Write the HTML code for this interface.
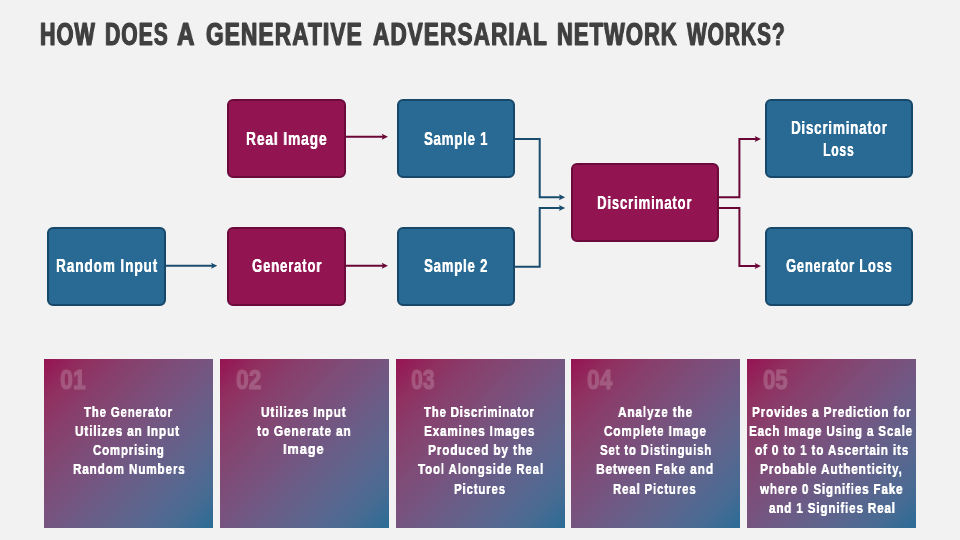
<!DOCTYPE html>
<html><head><meta charset="utf-8">
<style>
html,body{margin:0;padding:0;}
body{width:960px;height:540px;background:#f2f2f2;position:relative;overflow:hidden;font-family:"Liberation Sans",sans-serif;font-weight:bold;}
.box{position:absolute;box-sizing:border-box;border-radius:6px;border:2px solid;}
.b{background:#286a93;border-color:#17486a;}
.m{background:#921450;border-color:#6c0b3b;}
.card{position:absolute;top:359px;width:169px;height:169px;background:linear-gradient(135deg,#961252 0%,#903060 13%,#883f6c 25%,#7f4b77 38%,#755580 50%,#685e88 62%,#5a668e 75%,#476b93 88%,#2a6c96 100%);}
svg{position:absolute;left:0;top:0;}
</style></head><body>
<svg width="960" height="540" viewBox="0 0 960 540">
  <g fill="none" stroke-width="2">
    <path d="M166 265.8H213" stroke="#1a4c6e"/>
    <path d="M346 136.8H384" stroke="#6a0536"/>
    <path d="M346 265.8H384" stroke="#6a0536"/>
    <path d="M515 139H539.7V197.3H561" stroke="#1a4c6e"/>
    <path d="M515 266.8H539.7V208H561" stroke="#1a4c6e"/>
    <path d="M719 197.2H739.4V139H757" stroke="#6a0536"/>
    <path d="M719 208H739.4V266H757" stroke="#6a0536"/>
  </g>
  <g>
    <path d="M217.3 265.8L211 262.8L212.3 265.8L211 268.8Z" fill="#1a4c6e"/>
    <path d="M388 136.8L381.7 133.8L383 136.8L381.7 139.8Z" fill="#6a0536"/>
    <path d="M388 265.8L381.7 262.8L383 265.8L381.7 268.8Z" fill="#6a0536"/>
    <path d="M565.2 197.3L558.9 194.3L560.2 197.3L558.9 200.3Z" fill="#1a4c6e"/>
    <path d="M565.2 208L558.9 205L560.2 208L558.9 211Z" fill="#1a4c6e"/>
    <path d="M761 139L754.7 136L756 139L754.7 142Z" fill="#6a0536"/>
    <path d="M761 266L754.7 263L756 266L754.7 269Z" fill="#6a0536"/>
  </g>
</svg>
<div class="box b" style="left:47px;top:227px;width:119px;height:78.5px;"></div>
<div class="box m" style="left:227px;top:99px;width:119px;height:78.5px;"></div>
<div class="box m" style="left:227px;top:227px;width:119px;height:78.5px;"></div>
<div class="box b" style="left:397px;top:99px;width:118px;height:78.5px;"></div>
<div class="box b" style="left:397px;top:227px;width:118px;height:78.5px;"></div>
<div class="box m" style="left:571px;top:163px;width:148px;height:78.5px;"></div>
<div class="box b" style="left:765px;top:99px;width:148px;height:78.5px;"></div>
<div class="box b" style="left:765px;top:227px;width:148px;height:78.5px;"></div>
<div class="card" style="left:44px;"></div>
<div class="card" style="left:219.75px;"></div>
<div class="card" style="left:395.5px;"></div>
<div class="card" style="left:571.25px;"></div>
<div class="card" style="left:747px;"></div>
<div style="position:absolute;left:39.65px;top:18.59px;font-size:31.541px;line-height:31.541px;color:#404040;white-space:nowrap;transform-origin:0 0;transform:scaleX(0.6842);will-change:transform;-webkit-text-stroke:0.8px #404040;text-shadow:0.7px 0 0 #404040,-0.7px 0 0 #404040;letter-spacing:1.5px;">HOW</div>
<div style="position:absolute;left:104.63px;top:18.59px;font-size:31.541px;line-height:31.541px;color:#404040;white-space:nowrap;transform-origin:0 0;transform:scaleX(0.6690);will-change:transform;-webkit-text-stroke:0.8px #404040;text-shadow:0.7px 0 0 #404040,-0.7px 0 0 #404040;letter-spacing:1.5px;">DOES</div>
<div style="position:absolute;left:176.83px;top:18.59px;font-size:31.541px;line-height:31.541px;color:#404040;white-space:nowrap;transform-origin:0 0;transform:scaleX(0.7643);will-change:transform;-webkit-text-stroke:0.8px #404040;text-shadow:0.7px 0 0 #404040,-0.7px 0 0 #404040;letter-spacing:1.5px;">A</div>
<div style="position:absolute;left:205.68px;top:18.59px;font-size:31.541px;line-height:31.541px;color:#404040;white-space:nowrap;transform-origin:0 0;transform:scaleX(0.7205);will-change:transform;-webkit-text-stroke:0.8px #404040;text-shadow:0.7px 0 0 #404040,-0.7px 0 0 #404040;letter-spacing:1.5px;">GENERATIVE</div>
<div style="position:absolute;left:372.65px;top:18.59px;font-size:31.541px;line-height:31.541px;color:#404040;white-space:nowrap;transform-origin:0 0;transform:scaleX(0.7163);will-change:transform;-webkit-text-stroke:0.8px #404040;text-shadow:0.7px 0 0 #404040,-0.7px 0 0 #404040;letter-spacing:1.5px;">ADVERSARIAL</div>
<div style="position:absolute;left:556.54px;top:18.59px;font-size:31.541px;line-height:31.541px;color:#404040;white-space:nowrap;transform-origin:0 0;transform:scaleX(0.6966);will-change:transform;-webkit-text-stroke:0.8px #404040;text-shadow:0.7px 0 0 #404040,-0.7px 0 0 #404040;letter-spacing:1.5px;">NETWORK</div>
<div style="position:absolute;left:686.98px;top:18.59px;font-size:31.541px;line-height:31.541px;color:#404040;white-space:nowrap;transform-origin:0 0;transform:scaleX(0.6620);will-change:transform;-webkit-text-stroke:0.8px #404040;text-shadow:0.7px 0 0 #404040,-0.7px 0 0 #404040;letter-spacing:1.5px;">WORKS?</div>
<div style="position:absolute;left:55.58px;top:258.46px;font-size:17.878px;line-height:17.878px;color:#fff;white-space:nowrap;transform-origin:0 0;transform:scaleX(0.7670);will-change:transform;letter-spacing:1.1px;text-shadow:0.15px 0 0 #fff,-0.15px 0 0 #fff;">Random Input</div>
<div style="position:absolute;left:245.64px;top:130.44px;font-size:18.024px;line-height:18.024px;color:#fff;white-space:nowrap;transform-origin:0 0;transform:scaleX(0.7674);will-change:transform;letter-spacing:1.1px;text-shadow:0.15px 0 0 #fff,-0.15px 0 0 #fff;">Real Image</div>
<div style="position:absolute;left:251.57px;top:257.42px;font-size:18.169px;line-height:18.169px;color:#fff;white-space:nowrap;transform-origin:0 0;transform:scaleX(0.7259);will-change:transform;letter-spacing:1.1px;text-shadow:0.15px 0 0 #fff,-0.15px 0 0 #fff;">Generator</div>
<div style="position:absolute;left:423.87px;top:130.42px;font-size:18.169px;line-height:18.169px;color:#fff;white-space:nowrap;transform-origin:0 0;transform:scaleX(0.7272);will-change:transform;letter-spacing:1.1px;text-shadow:0.15px 0 0 #fff,-0.15px 0 0 #fff;">Sample 1</div>
<div style="position:absolute;left:423.87px;top:257.37px;font-size:18.460px;line-height:18.460px;color:#fff;white-space:nowrap;transform-origin:0 0;transform:scaleX(0.7150);will-change:transform;letter-spacing:1.1px;text-shadow:0.15px 0 0 #fff,-0.15px 0 0 #fff;">Sample 2</div>
<div style="position:absolute;left:597.14px;top:194.35px;font-size:18.605px;line-height:18.605px;color:#fff;white-space:nowrap;transform-origin:0 0;transform:scaleX(0.7107);will-change:transform;letter-spacing:1.1px;text-shadow:0.15px 0 0 #fff,-0.15px 0 0 #fff;">Discriminator</div>
<div style="position:absolute;left:790.99px;top:119.31px;font-size:18.242px;line-height:18.242px;color:#fff;white-space:nowrap;transform-origin:0 0;transform:scaleX(0.7326);will-change:transform;letter-spacing:1.1px;text-shadow:0.15px 0 0 #fff,-0.15px 0 0 #fff;">Discriminator</div>
<div style="position:absolute;left:822.99px;top:142.06px;font-size:17.878px;line-height:17.878px;color:#fff;white-space:nowrap;transform-origin:0 0;transform:scaleX(0.6828);will-change:transform;letter-spacing:1.1px;text-shadow:0.15px 0 0 #fff,-0.15px 0 0 #fff;">Loss</div>
<div style="position:absolute;left:785.84px;top:257.15px;font-size:18.605px;line-height:18.605px;color:#fff;white-space:nowrap;transform-origin:0 0;transform:scaleX(0.6977);will-change:transform;letter-spacing:1.1px;text-shadow:0.15px 0 0 #fff,-0.15px 0 0 #fff;">Generator Loss</div>
<div style="position:absolute;left:83.91px;top:404.00px;font-size:15.117px;line-height:15.117px;color:#fff;white-space:nowrap;transform-origin:0 0;transform:scaleX(0.7554);will-change:transform;letter-spacing:1.1px;text-shadow:0.15px 0 0 #fff,-0.15px 0 0 #fff;">The Generator</div>
<div style="position:absolute;left:75.31px;top:423.15px;font-size:15.117px;line-height:15.117px;color:#fff;white-space:nowrap;transform-origin:0 0;transform:scaleX(0.7791);will-change:transform;letter-spacing:1.1px;text-shadow:0.15px 0 0 #fff,-0.15px 0 0 #fff;">Utilizes an Input</div>
<div style="position:absolute;left:93.32px;top:442.30px;font-size:15.117px;line-height:15.117px;color:#fff;white-space:nowrap;transform-origin:0 0;transform:scaleX(0.7559);will-change:transform;letter-spacing:1.1px;text-shadow:0.15px 0 0 #fff,-0.15px 0 0 #fff;">Comprising</div>
<div style="position:absolute;left:72.55px;top:461.45px;font-size:15.117px;line-height:15.117px;color:#fff;white-space:nowrap;transform-origin:0 0;transform:scaleX(0.7735);will-change:transform;letter-spacing:1.1px;text-shadow:0.15px 0 0 #fff,-0.15px 0 0 #fff;">Random Numbers</div>
<div style="position:absolute;left:261.02px;top:404.00px;font-size:15.117px;line-height:15.117px;color:#fff;white-space:nowrap;transform-origin:0 0;transform:scaleX(0.7817);will-change:transform;letter-spacing:1.1px;text-shadow:0.15px 0 0 #fff,-0.15px 0 0 #fff;">Utilizes Input</div>
<div style="position:absolute;left:257.32px;top:423.15px;font-size:15.117px;line-height:15.117px;color:#fff;white-space:nowrap;transform-origin:0 0;transform:scaleX(0.7795);will-change:transform;letter-spacing:1.1px;text-shadow:0.15px 0 0 #fff,-0.15px 0 0 #fff;">to Generate an</div>
<div style="position:absolute;left:282.98px;top:441.30px;font-size:15.117px;line-height:15.117px;color:#fff;white-space:nowrap;transform-origin:0 0;transform:scaleX(0.8434);will-change:transform;letter-spacing:1.1px;text-shadow:0.15px 0 0 #fff,-0.15px 0 0 #fff;">Image</div>
<div style="position:absolute;left:424.48px;top:404.00px;font-size:15.117px;line-height:15.117px;color:#fff;white-space:nowrap;transform-origin:0 0;transform:scaleX(0.7532);will-change:transform;letter-spacing:1.1px;text-shadow:0.15px 0 0 #fff,-0.15px 0 0 #fff;">The Discriminator</div>
<div style="position:absolute;left:423.92px;top:423.15px;font-size:15.117px;line-height:15.117px;color:#fff;white-space:nowrap;transform-origin:0 0;transform:scaleX(0.7758);will-change:transform;letter-spacing:1.1px;text-shadow:0.15px 0 0 #fff,-0.15px 0 0 #fff;">Examines Images</div>
<div style="position:absolute;left:427.55px;top:442.30px;font-size:15.117px;line-height:15.117px;color:#fff;white-space:nowrap;transform-origin:0 0;transform:scaleX(0.7799);will-change:transform;letter-spacing:1.1px;text-shadow:0.15px 0 0 #fff,-0.15px 0 0 #fff;">Produced by the</div>
<div style="position:absolute;left:417.78px;top:461.45px;font-size:15.117px;line-height:15.117px;color:#fff;white-space:nowrap;transform-origin:0 0;transform:scaleX(0.7659);will-change:transform;letter-spacing:1.1px;text-shadow:0.15px 0 0 #fff,-0.15px 0 0 #fff;">Tool Alongside Real</div>
<div style="position:absolute;left:453.76px;top:480.60px;font-size:15.117px;line-height:15.117px;color:#fff;white-space:nowrap;transform-origin:0 0;transform:scaleX(0.7579);will-change:transform;letter-spacing:1.1px;text-shadow:0.15px 0 0 #fff,-0.15px 0 0 #fff;">Pictures</div>
<div style="position:absolute;left:618.16px;top:404.00px;font-size:15.117px;line-height:15.117px;color:#fff;white-space:nowrap;transform-origin:0 0;transform:scaleX(0.7806);will-change:transform;letter-spacing:1.1px;text-shadow:0.15px 0 0 #fff,-0.15px 0 0 #fff;">Analyze the</div>
<div style="position:absolute;left:604.11px;top:423.15px;font-size:15.117px;line-height:15.117px;color:#fff;white-space:nowrap;transform-origin:0 0;transform:scaleX(0.7783);will-change:transform;letter-spacing:1.1px;text-shadow:0.15px 0 0 #fff,-0.15px 0 0 #fff;">Complete Image</div>
<div style="position:absolute;left:600.34px;top:442.30px;font-size:15.117px;line-height:15.117px;color:#fff;white-space:nowrap;transform-origin:0 0;transform:scaleX(0.7560);will-change:transform;letter-spacing:1.1px;text-shadow:0.15px 0 0 #fff,-0.15px 0 0 #fff;">Set to Distinguish</div>
<div style="position:absolute;left:596.46px;top:461.45px;font-size:15.117px;line-height:15.117px;color:#fff;white-space:nowrap;transform-origin:0 0;transform:scaleX(0.7894);will-change:transform;letter-spacing:1.1px;text-shadow:0.15px 0 0 #fff,-0.15px 0 0 #fff;">Between Fake and</div>
<div style="position:absolute;left:613.41px;top:480.60px;font-size:15.117px;line-height:15.117px;color:#fff;white-space:nowrap;transform-origin:0 0;transform:scaleX(0.7585);will-change:transform;letter-spacing:1.1px;text-shadow:0.15px 0 0 #fff,-0.15px 0 0 #fff;">Real Pictures</div>
<div style="position:absolute;left:751.83px;top:404.00px;font-size:15.117px;line-height:15.117px;color:#fff;white-space:nowrap;transform-origin:0 0;transform:scaleX(0.7728);will-change:transform;letter-spacing:1.1px;text-shadow:0.15px 0 0 #fff,-0.15px 0 0 #fff;">Provides a Prediction for</div>
<div style="position:absolute;left:749.07px;top:423.15px;font-size:15.117px;line-height:15.117px;color:#fff;white-space:nowrap;transform-origin:0 0;transform:scaleX(0.7702);will-change:transform;letter-spacing:1.1px;text-shadow:0.15px 0 0 #fff,-0.15px 0 0 #fff;">Each Image Using a Scale</div>
<div style="position:absolute;left:754.99px;top:442.30px;font-size:15.117px;line-height:15.117px;color:#fff;white-space:nowrap;transform-origin:0 0;transform:scaleX(0.7730);will-change:transform;letter-spacing:1.1px;text-shadow:0.15px 0 0 #fff,-0.15px 0 0 #fff;">of 0 to 1 to Ascertain its</div>
<div style="position:absolute;left:760.23px;top:461.45px;font-size:15.117px;line-height:15.117px;color:#fff;white-space:nowrap;transform-origin:0 0;transform:scaleX(0.7802);will-change:transform;letter-spacing:1.1px;text-shadow:0.15px 0 0 #fff,-0.15px 0 0 #fff;">Probable Authenticity,</div>
<div style="position:absolute;left:759.61px;top:480.60px;font-size:15.117px;line-height:15.117px;color:#fff;white-space:nowrap;transform-origin:0 0;transform:scaleX(0.7698);will-change:transform;letter-spacing:1.1px;text-shadow:0.15px 0 0 #fff,-0.15px 0 0 #fff;">where 0 Signifies Fake</div>
<div style="position:absolute;left:768.99px;top:499.75px;font-size:15.117px;line-height:15.117px;color:#fff;white-space:nowrap;transform-origin:0 0;transform:scaleX(0.7698);will-change:transform;letter-spacing:1.1px;text-shadow:0.15px 0 0 #fff,-0.15px 0 0 #fff;">and 1 Signifies Real</div>
<div style="position:absolute;left:60.10px;top:365.38px;font-size:28.489px;line-height:28.489px;color:#fff;white-space:nowrap;transform-origin:0 0;transform:scaleX(0.8144);will-change:transform;-webkit-text-stroke:1.2px #fff;opacity:0.19;">01</div>
<div style="position:absolute;left:235.80px;top:365.38px;font-size:28.489px;line-height:28.489px;color:#fff;white-space:nowrap;transform-origin:0 0;transform:scaleX(0.7986);will-change:transform;-webkit-text-stroke:1.2px #fff;opacity:0.19;">02</div>
<div style="position:absolute;left:411.40px;top:365.38px;font-size:28.489px;line-height:28.489px;color:#fff;white-space:nowrap;transform-origin:0 0;transform:scaleX(0.7481);will-change:transform;-webkit-text-stroke:1.2px #fff;opacity:0.19;">03</div>
<div style="position:absolute;left:586.80px;top:365.38px;font-size:28.489px;line-height:28.489px;color:#fff;white-space:nowrap;transform-origin:0 0;transform:scaleX(0.7986);will-change:transform;-webkit-text-stroke:1.2px #fff;opacity:0.19;">04</div>
<div style="position:absolute;left:762.70px;top:365.38px;font-size:28.489px;line-height:28.489px;color:#fff;white-space:nowrap;transform-origin:0 0;transform:scaleX(0.7797);will-change:transform;-webkit-text-stroke:1.2px #fff;opacity:0.19;">05</div>
</body></html>
